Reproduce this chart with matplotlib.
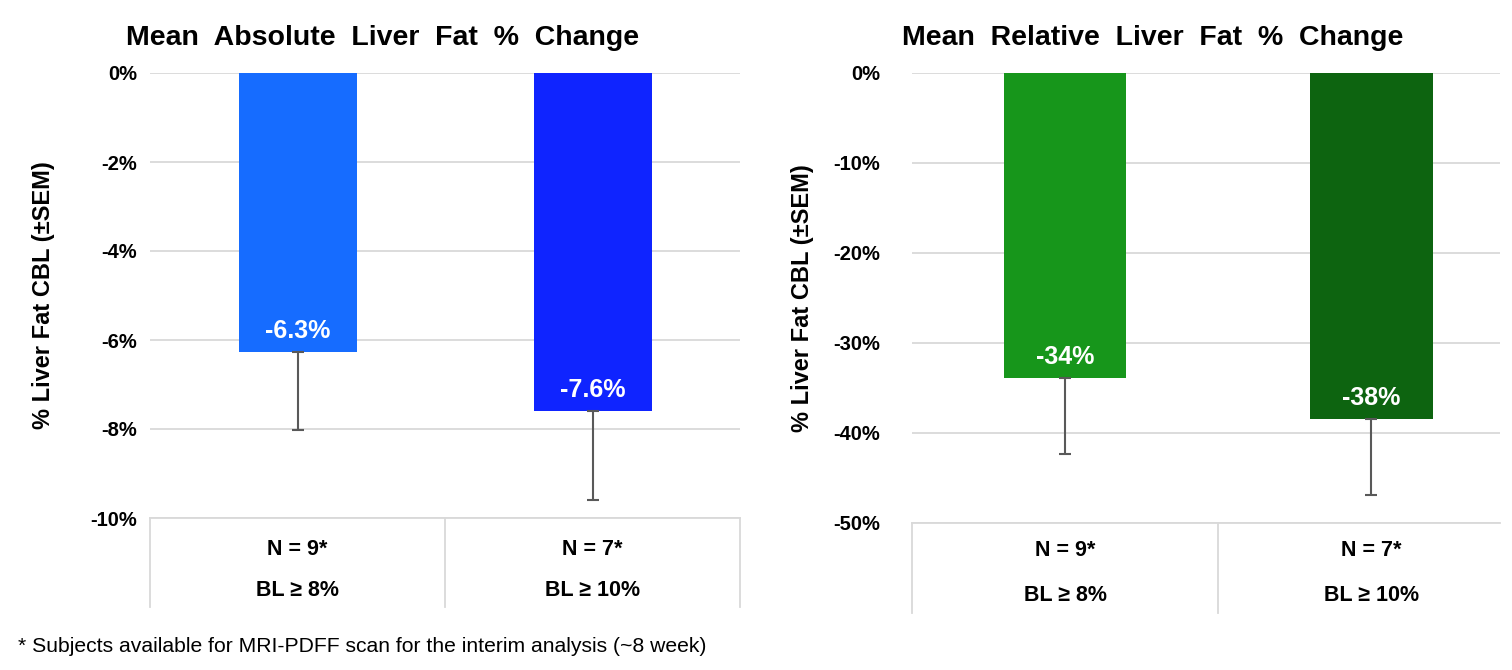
import matplotlib
matplotlib.use("Agg")
import matplotlib.pyplot as plt
from matplotlib.ticker import FuncFormatter

plt.rcParams['font.family'] = ['Liberation Sans', 'DejaVu Sans']

# data
groups_n = ['N = 9*', 'N = 7*']
groups_bl = ['BL \u2265 8%', 'BL \u2265 10%']

abs_change = [-6.27, -7.6]
abs_sem = [1.75, 2.0]
abs_labels = ['-6.3%', '-7.6%']
abs_colors = ['#166cff', '#0f24ff']
abs_ticks = [0, -2, -4, -6, -8, -10]

rel_change = [-33.9, -38.4]
rel_sem = [8.4, 8.5]
rel_labels = ['-34%', '-38%']
rel_colors = ['#17961b', '#0d6410']
rel_ticks = [0, -10, -20, -30, -40, -50]

W, H = 1512, 670
fig = plt.figure(figsize=(W / 100, H / 100), dpi=100)
grid_c = '#d9d9d9'


def px_axes(x0, x1, ytop, ybot):
    return fig.add_axes([x0 / W, (H - ybot) / H, (x1 - x0) / W, (ybot - ytop) / H])


def panel(ax, vals, errs, labels, colors, ticks, title, title_x, xmax, tbl_bot, txt_y, lab_x, pad):
    x = list(range(len(vals)))
    ax.bar(x, vals, width=0.4, color=colors, zorder=3)
    ax.errorbar(x, vals, yerr=[errs, [0] * len(errs)], fmt='none',
                ecolor='#595959', elinewidth=1.5, capsize=4, capthick=1.5, zorder=4)
    for xi, v, lb in zip(x, vals, labels):
        ax.annotate(lb, (xi, v), xytext=(0, 15), textcoords='offset points',
                    ha='center', va='center', color='white', fontsize=18,
                    fontweight='bold', zorder=5)
    ax.set_xlim(-0.5, xmax)
    ax.set_ylim(ticks[-1], 0)
    ax.set_yticks(ticks)
    ax.yaxis.set_major_formatter(FuncFormatter(lambda v, p: '%d%%' % v))
    ax.yaxis.grid(True, color=grid_c, lw=1.3, zorder=0)
    ax.set_xticks([])
    for s in ax.spines.values():
        s.set_visible(False)
    ax.tick_params(axis='y', length=0, pad=pad, labelsize=14.5)
    for t in ax.get_yticklabels():
        t.set_fontweight('bold')
    ax.set_ylabel('% Liver Fat CBL (\u00b1SEM)', fontsize=17, fontweight='bold')
    ax.yaxis.set_label_coords(lab_x, 0.5)
    ax.set_title(title, fontsize=20.5, fontweight='bold', x=title_x, y=1.0, pad=20)
    # category table under the axis
    tr = ax.get_xaxis_transform()
    for xv in [-0.5, 0.5, 1.5]:
        ax.plot([xv, xv], [0, tbl_bot], color=grid_c, lw=1.3, transform=tr, clip_on=False)
    ax.plot([-0.5, xmax], [0, 0], color=grid_c, lw=1.3, transform=tr, clip_on=False)
    for xi, n, bl in zip(x, groups_n, groups_bl):
        ax.text(xi, txt_y[0], n, transform=tr, ha='center', va='center',
                fontsize=15.5, fontweight='bold')
        ax.text(xi, txt_y[1], bl, transform=tr, ha='center', va='center',
                fontsize=15.5, fontweight='bold')


ax1 = px_axes(150, 740, 73, 518)
panel(ax1, abs_change, abs_sem, abs_labels, abs_colors, abs_ticks,
      'Mean  Absolute  Liver  Fat  %  Change', 0.395, 1.5, -0.2,
      (-0.07, -0.162), -95 / 590, 9.5)

ax2 = px_axes(912, 1500, 73, 523)
panel(ax2, rel_change, rel_sem, rel_labels, rel_colors, rel_ticks,
      'Mean  Relative  Liver  Fat  %  Change', 0.41, 1.42, -0.2,
      (-0.062, -0.162), -98 / 588, 23)

fig.text(18 / W, 1 - 646 / H, '* Subjects available for MRI-PDFF scan for the interim analysis (~8 week)',
         fontsize=15.2, va='center', ha='left')

fig.savefig('out.png', dpi=100)
